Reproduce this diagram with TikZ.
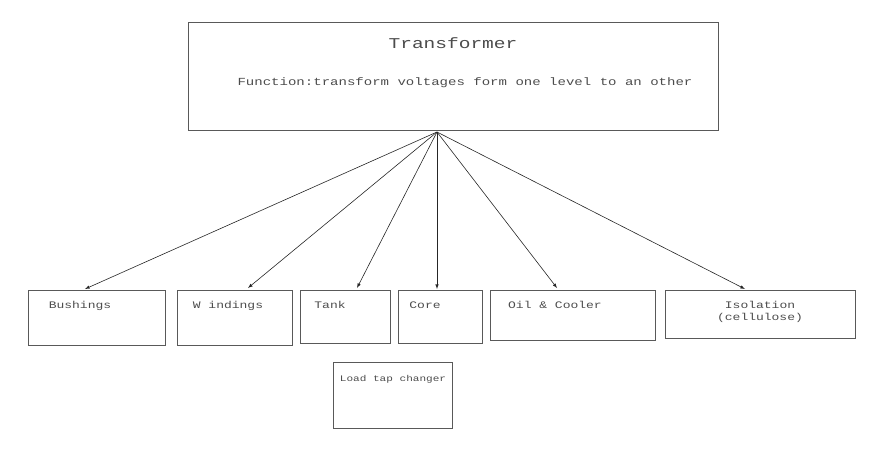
\documentclass[tikz,border=0pt]{standalone}
\usepackage{fontspec}
\setmainfont[FakeStretch=1.3]{Liberation Mono}
\begin{document}
\begin{tikzpicture}[x=1pt,y=-1pt,
 box/.style={draw=black!65,line width=0.8pt,inner sep=0pt},
 lbl/.style={font=\fontsize{10}{12}\selectfont,text=black!70,anchor=north,align=center},
 arr/.style={-latex,line width=0.6pt,black!85}]
\useasboundingbox (0,0) rectangle (889,476);
\draw[box] (188,22) rectangle (718,130);
\node[font=\fontsize{15}{17}\selectfont,text=black!70] (t) at (453,43) {Transformer};
\node[font=\fontsize{10.8}{12}\selectfont,text=black!70] (f) at (465,83) {Function:transform voltages form one level to an other};
\coordinate (src) at (437,132);
\draw[box] (28,290) rectangle (165,345);
\draw[box] (177,290) rectangle (292,345);
\draw[box] (300,290) rectangle (390,343);
\draw[box] (398,290) rectangle (482,343);
\draw[box] (490,290) rectangle (655,340);
\draw[box] (665,290) rectangle (855,338);
\draw[box] (333,362) rectangle (452,428);
\node[lbl] (bu) at (80,298) {Bushings};
\node[lbl] (wi) at (228,298) {W indings};
\node[lbl] (ta) at (330,298) {Tank};
\node[lbl] (co) at (425,298) {Core};
\node[lbl] (oi) at (555,298) {Oil \& Cooler};
\node[lbl] (is) at (760,298) {Isolation\\(cellulose)};
\node[lbl,font=\fontsize{8.5}{10}\selectfont] (lt) at (393,372) {Load tap changer};
\coordinate (bt) at (85,289);
\coordinate (wt) at (248,288);
\coordinate (tt) at (357,288);
\coordinate (ct) at (437,289);
\coordinate (ot) at (557,288);
\coordinate (it) at (745,289);
\foreach \c in {bt,wt,tt,ct,ot,it} \draw[arr] (src) -- (\c);
\end{tikzpicture}
\end{document}
